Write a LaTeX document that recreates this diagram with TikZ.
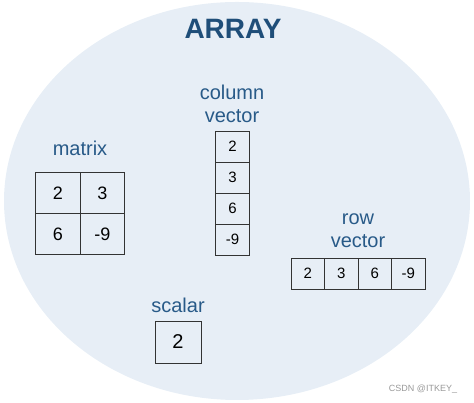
\documentclass[tikz,border=0pt]{standalone}
\usepackage{fontspec}
\setmainfont{Liberation Sans}
\usetikzlibrary{positioning}
\definecolor{bgblue}{HTML}{E7EEF6}
\definecolor{titleblue}{HTML}{1F4E79}
\definecolor{labelblue}{HTML}{285A88}

\begin{document}
\begin{tikzpicture}[
        x=1pt, y=1pt,
        cell/.style={draw=black!80, line width=0.9pt, fill=bgblue, inner sep=0pt},
        lbl/.style={text=labelblue, font=\fontsize{20}{23}\selectfont, align=center},
        ]
        \useasboundingbox (0,0) rectangle (474,403);
        % background ellipse
        \fill[bgblue] (237,202) ellipse [x radius=233, y radius=199];
        \node[font=\fontsize{28}{30}\selectfont\bfseries, text=titleblue] (title) at (233,374) {ARRAY};
        % matrix
        \foreach \v/\x/\y [count=\i] in {2/57.9/209.7, 3/102.4/209.7, 6/57.9/169, -9/102.4/169}
            \node[cell, minimum width=44.5pt, minimum height=40.7pt, font=\fontsize{18}{18}\selectfont] (m\i) at (\x,\y) {\v};
        \node[lbl] (lmatrix) at (80,255) {matrix};
        % column vector
        \foreach \v/\y [count=\i] in {2/256.5, 3/225.5, 6/194.5, -9/163.5}
            \node[cell, minimum width=33.5pt, minimum height=31pt, font=\fontsize{15}{15}\selectfont] (c\i) at (232.5,\y) {\v};
        \node[lbl] (lcolumn) at (232,299.5) {column\\vector};
        % row vector
        \foreach \v/\x [count=\i] in {2/307.75, 3/341.25, 6/374.75, -9/408.25}
            \node[cell, minimum width=33.5pt, minimum height=31pt, font=\fontsize{15}{15}\selectfont] (r\i) at (\x,129.5) {\v};
        \node[lbl] (lrow) at (358,172) {row\\vector};
        % scalar
        \node[cell, minimum width=46pt, minimum height=42pt, font=\fontsize{20}{20}\selectfont] (s) at (178,61) {2};
        \node[lbl] (lscalar) at (178,98) {scalar};
        % watermark
        \node[text=black!40, font=\fontsize{9}{9}\selectfont] (mark) at (423,14) {CSDN @ITKEY\_};
\end{tikzpicture}
\end{document}
